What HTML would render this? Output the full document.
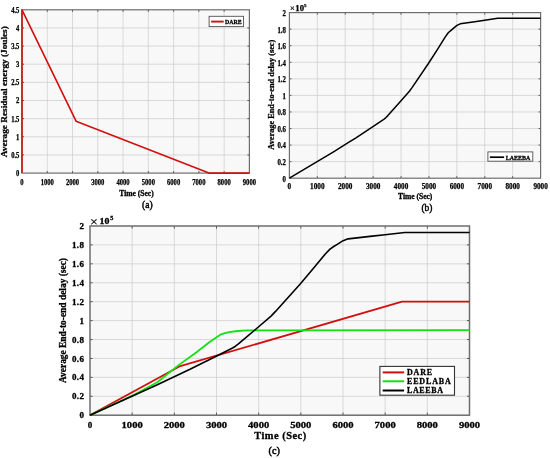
<!DOCTYPE html>
<html><head><meta charset="utf-8"><title>Figure</title>
<style>
html,body{margin:0;padding:0;background:#fff;}
body{width:550px;height:458px;position:relative;overflow:hidden;}
</style></head><body>
<svg width="550" height="458" viewBox="0 0 550 458" style="position:absolute;left:0;top:0">
<style>text{stroke:#000;stroke-width:0.3px} text.s{stroke-width:0.25px}</style>
<g font-family='"Liberation Serif", "Times New Roman", serif' fill="#000">
<rect x="0" y="0" width="550" height="458" fill="#fff"/>
<rect x="22" y="9.8" width="227.4" height="163.3" fill="#f8f8f8"/>
<path d="M47.27 9.8V173.1M72.53 9.8V173.1M97.8 9.8V173.1M123.07 9.8V173.1M148.33 9.8V173.1M173.6 9.8V173.1M198.87 9.8V173.1M224.13 9.8V173.1M22 154.96H249.4M22 136.81H249.4M22 118.67H249.4M22 100.52H249.4M22 82.38H249.4M22 64.23H249.4M22 46.09H249.4M22 27.94H249.4" stroke="#cccccc" stroke-width="0.7" fill="none"/>
<path d="M47.27 173.1v-2.0M47.27 9.8v2.0M72.53 173.1v-2.0M72.53 9.8v2.0M97.8 173.1v-2.0M97.8 9.8v2.0M123.07 173.1v-2.0M123.07 9.8v2.0M148.33 173.1v-2.0M148.33 9.8v2.0M173.6 173.1v-2.0M173.6 9.8v2.0M198.87 173.1v-2.0M198.87 9.8v2.0M224.13 173.1v-2.0M224.13 9.8v2.0M22 154.96h2.0M249.4 154.96h-2.0M22 136.81h2.0M249.4 136.81h-2.0M22 118.67h2.0M249.4 118.67h-2.0M22 100.52h2.0M249.4 100.52h-2.0M22 82.38h2.0M249.4 82.38h-2.0M22 64.23h2.0M249.4 64.23h-2.0M22 46.09h2.0M249.4 46.09h-2.0M22 27.94h2.0M249.4 27.94h-2.0" stroke="#555" stroke-width="1" fill="none"/>
<rect x="22" y="9.8" width="227.4" height="163.3" fill="none" stroke="#6e6e6e" stroke-width="1.2"/>
<text x="19.4" y="176" font-size="7.6" text-anchor="end" font-weight="bold" textLength="3.31" lengthAdjust="spacingAndGlyphs" class="s">0</text>
<text x="19.4" y="157.86" font-size="7.6" text-anchor="end" font-weight="bold" textLength="8.27" lengthAdjust="spacingAndGlyphs" class="s">0.5</text>
<text x="19.4" y="139.71" font-size="7.6" text-anchor="end" font-weight="bold" textLength="3.31" lengthAdjust="spacingAndGlyphs" class="s">1</text>
<text x="19.4" y="121.57" font-size="7.6" text-anchor="end" font-weight="bold" textLength="8.27" lengthAdjust="spacingAndGlyphs" class="s">1.5</text>
<text x="19.4" y="103.42" font-size="7.6" text-anchor="end" font-weight="bold" textLength="3.31" lengthAdjust="spacingAndGlyphs" class="s">2</text>
<text x="19.4" y="85.28" font-size="7.6" text-anchor="end" font-weight="bold" textLength="8.27" lengthAdjust="spacingAndGlyphs" class="s">2.5</text>
<text x="19.4" y="67.13" font-size="7.6" text-anchor="end" font-weight="bold" textLength="3.31" lengthAdjust="spacingAndGlyphs" class="s">3</text>
<text x="19.4" y="48.99" font-size="7.6" text-anchor="end" font-weight="bold" textLength="8.27" lengthAdjust="spacingAndGlyphs" class="s">3.5</text>
<text x="19.4" y="30.84" font-size="7.6" text-anchor="end" font-weight="bold" textLength="3.31" lengthAdjust="spacingAndGlyphs" class="s">4</text>
<text x="19.4" y="12.7" font-size="7.6" text-anchor="end" font-weight="bold" textLength="8.27" lengthAdjust="spacingAndGlyphs" class="s">4.5</text>
<text x="22" y="184.6" font-size="7.6" text-anchor="middle" font-weight="bold" textLength="3.31" lengthAdjust="spacingAndGlyphs" class="s">0</text>
<text x="47.27" y="184.6" font-size="7.6" text-anchor="middle" font-weight="bold" textLength="13.22" lengthAdjust="spacingAndGlyphs" class="s">1000</text>
<text x="72.53" y="184.6" font-size="7.6" text-anchor="middle" font-weight="bold" textLength="13.22" lengthAdjust="spacingAndGlyphs" class="s">2000</text>
<text x="97.8" y="184.6" font-size="7.6" text-anchor="middle" font-weight="bold" textLength="13.22" lengthAdjust="spacingAndGlyphs" class="s">3000</text>
<text x="123.07" y="184.6" font-size="7.6" text-anchor="middle" font-weight="bold" textLength="13.22" lengthAdjust="spacingAndGlyphs" class="s">4000</text>
<text x="148.33" y="184.6" font-size="7.6" text-anchor="middle" font-weight="bold" textLength="13.22" lengthAdjust="spacingAndGlyphs" class="s">5000</text>
<text x="173.6" y="184.6" font-size="7.6" text-anchor="middle" font-weight="bold" textLength="13.22" lengthAdjust="spacingAndGlyphs" class="s">6000</text>
<text x="198.87" y="184.6" font-size="7.6" text-anchor="middle" font-weight="bold" textLength="13.22" lengthAdjust="spacingAndGlyphs" class="s">7000</text>
<text x="224.13" y="184.6" font-size="7.6" text-anchor="middle" font-weight="bold" textLength="13.22" lengthAdjust="spacingAndGlyphs" class="s">8000</text>
<text x="249.4" y="184.6" font-size="7.6" text-anchor="middle" font-weight="bold" textLength="13.22" lengthAdjust="spacingAndGlyphs" class="s">9000</text>
<text x="136.5" y="195.6" font-size="7.6" text-anchor="middle" font-weight="bold" textLength="34.3" lengthAdjust="spacingAndGlyphs">Time (Sec)</text>
<text transform="translate(7.4,91.7) rotate(-90)" font-size="7.6" font-weight="bold" text-anchor="middle" textLength="131" lengthAdjust="spacingAndGlyphs" class="s">Average Residual energy (Joules)</text>
<rect x="209.1" y="16.3" width="34.4" height="10.3" fill="#fff" stroke="#505050" stroke-width="0.9"/>
<text x="225" y="23.9" font-size="7.0" font-weight="bold" textLength="16.7" lengthAdjust="spacingAndGlyphs">DARE</text>
<text x="147.3" y="207.8" font-size="9.5" text-anchor="middle" style="stroke-width:0.45px">(a)</text>
<rect x="289.4" y="12.6" width="251.2" height="165.6" fill="#f8f8f8"/>
<path d="M317.31 12.6V178.2M345.22 12.6V178.2M373.13 12.6V178.2M401.04 12.6V178.2M428.96 12.6V178.2M456.87 12.6V178.2M484.78 12.6V178.2M512.69 12.6V178.2M289.4 161.64H540.6M289.4 145.08H540.6M289.4 128.52H540.6M289.4 111.96H540.6M289.4 95.4H540.6M289.4 78.84H540.6M289.4 62.28H540.6M289.4 45.72H540.6M289.4 29.16H540.6" stroke="#cccccc" stroke-width="0.7" fill="none"/>
<path d="M317.31 178.2v-2.0M317.31 12.6v2.0M345.22 178.2v-2.0M345.22 12.6v2.0M373.13 178.2v-2.0M373.13 12.6v2.0M401.04 178.2v-2.0M401.04 12.6v2.0M428.96 178.2v-2.0M428.96 12.6v2.0M456.87 178.2v-2.0M456.87 12.6v2.0M484.78 178.2v-2.0M484.78 12.6v2.0M512.69 178.2v-2.0M512.69 12.6v2.0M289.4 161.64h2.0M540.6 161.64h-2.0M289.4 145.08h2.0M540.6 145.08h-2.0M289.4 128.52h2.0M540.6 128.52h-2.0M289.4 111.96h2.0M540.6 111.96h-2.0M289.4 95.4h2.0M540.6 95.4h-2.0M289.4 78.84h2.0M540.6 78.84h-2.0M289.4 62.28h2.0M540.6 62.28h-2.0M289.4 45.72h2.0M540.6 45.72h-2.0M289.4 29.16h2.0M540.6 29.16h-2.0" stroke="#555" stroke-width="1" fill="none"/>
<rect x="289.4" y="12.6" width="251.2" height="165.6" fill="none" stroke="#6e6e6e" stroke-width="1.2"/>
<text x="286" y="181.6" font-size="7.6" text-anchor="end" font-weight="bold" textLength="3.42" lengthAdjust="spacingAndGlyphs" class="s">0</text>
<text x="286" y="165.04" font-size="7.6" text-anchor="end" font-weight="bold" textLength="8.55" lengthAdjust="spacingAndGlyphs" class="s">0.2</text>
<text x="286" y="148.48" font-size="7.6" text-anchor="end" font-weight="bold" textLength="8.55" lengthAdjust="spacingAndGlyphs" class="s">0.4</text>
<text x="286" y="131.92" font-size="7.6" text-anchor="end" font-weight="bold" textLength="8.55" lengthAdjust="spacingAndGlyphs" class="s">0.6</text>
<text x="286" y="115.36" font-size="7.6" text-anchor="end" font-weight="bold" textLength="8.55" lengthAdjust="spacingAndGlyphs" class="s">0.8</text>
<text x="286" y="98.8" font-size="7.6" text-anchor="end" font-weight="bold" textLength="3.42" lengthAdjust="spacingAndGlyphs" class="s">1</text>
<text x="286" y="82.24" font-size="7.6" text-anchor="end" font-weight="bold" textLength="8.55" lengthAdjust="spacingAndGlyphs" class="s">1.2</text>
<text x="286" y="65.68" font-size="7.6" text-anchor="end" font-weight="bold" textLength="8.55" lengthAdjust="spacingAndGlyphs" class="s">1.4</text>
<text x="286" y="49.12" font-size="7.6" text-anchor="end" font-weight="bold" textLength="8.55" lengthAdjust="spacingAndGlyphs" class="s">1.6</text>
<text x="286" y="32.56" font-size="7.6" text-anchor="end" font-weight="bold" textLength="8.55" lengthAdjust="spacingAndGlyphs" class="s">1.8</text>
<text x="286" y="16" font-size="7.6" text-anchor="end" font-weight="bold" textLength="3.42" lengthAdjust="spacingAndGlyphs" class="s">2</text>
<text x="289.4" y="189" font-size="7.6" text-anchor="middle" font-weight="bold" textLength="3.61" lengthAdjust="spacingAndGlyphs" class="s">0</text>
<text x="317.31" y="189" font-size="7.6" text-anchor="middle" font-weight="bold" textLength="14.44" lengthAdjust="spacingAndGlyphs" class="s">1000</text>
<text x="345.22" y="189" font-size="7.6" text-anchor="middle" font-weight="bold" textLength="14.44" lengthAdjust="spacingAndGlyphs" class="s">2000</text>
<text x="373.13" y="189" font-size="7.6" text-anchor="middle" font-weight="bold" textLength="14.44" lengthAdjust="spacingAndGlyphs" class="s">3000</text>
<text x="401.04" y="189" font-size="7.6" text-anchor="middle" font-weight="bold" textLength="14.44" lengthAdjust="spacingAndGlyphs" class="s">4000</text>
<text x="428.96" y="189" font-size="7.6" text-anchor="middle" font-weight="bold" textLength="14.44" lengthAdjust="spacingAndGlyphs" class="s">5000</text>
<text x="456.87" y="189" font-size="7.6" text-anchor="middle" font-weight="bold" textLength="14.44" lengthAdjust="spacingAndGlyphs" class="s">6000</text>
<text x="484.78" y="189" font-size="7.6" text-anchor="middle" font-weight="bold" textLength="14.44" lengthAdjust="spacingAndGlyphs" class="s">7000</text>
<text x="512.69" y="189" font-size="7.6" text-anchor="middle" font-weight="bold" textLength="14.44" lengthAdjust="spacingAndGlyphs" class="s">8000</text>
<text x="540.6" y="189" font-size="7.6" text-anchor="middle" font-weight="bold" textLength="14.44" lengthAdjust="spacingAndGlyphs" class="s">9000</text>
<text x="415.2" y="199.2" font-size="7.6" text-anchor="middle" font-weight="bold" textLength="34.3" lengthAdjust="spacingAndGlyphs">Time (Sec)</text>
<text transform="translate(274.2,94.7) rotate(-90)" font-size="7.2" font-weight="bold" text-anchor="middle" textLength="110" lengthAdjust="spacingAndGlyphs" class="s">Average End-to-end delay (sec)</text>
<text x="289.9" y="11.3" font-size="8.4" class="s">×</text>
<text x="295.3" y="10.6" font-size="7.3" font-weight="bold" class="s" textLength="8.7" lengthAdjust="spacingAndGlyphs">10</text>
<text x="303.9" y="6.6" font-size="5.0" font-weight="bold" class="s">5</text>
<rect x="487.9" y="151.9" width="44.9" height="9.3" fill="#fff" stroke="#505050" stroke-width="0.9"/>
<text x="505.8" y="159.5" font-size="6.9" font-weight="bold" textLength="24.5" lengthAdjust="spacingAndGlyphs">LAEEBA</text>
<text x="426.9" y="211.4" font-size="9.4" text-anchor="middle" style="stroke-width:0.45px">(b)</text>
<rect x="90" y="226" width="379.5" height="189.2" fill="#f8f8f8"/>
<path d="M132.17 226V415.2M174.33 226V415.2M216.5 226V415.2M258.67 226V415.2M300.83 226V415.2M343 226V415.2M385.17 226V415.2M427.33 226V415.2M90 396.28H469.5M90 377.36H469.5M90 358.44H469.5M90 339.52H469.5M90 320.6H469.5M90 301.68H469.5M90 282.76H469.5M90 263.84H469.5M90 244.92H469.5" stroke="#cccccc" stroke-width="0.7" fill="none"/>
<path d="M132.17 415.2v-2.6M132.17 226v2.6M174.33 415.2v-2.6M174.33 226v2.6M216.5 415.2v-2.6M216.5 226v2.6M258.67 415.2v-2.6M258.67 226v2.6M300.83 415.2v-2.6M300.83 226v2.6M343 415.2v-2.6M343 226v2.6M385.17 415.2v-2.6M385.17 226v2.6M427.33 415.2v-2.6M427.33 226v2.6M90 396.28h2.6M469.5 396.28h-2.6M90 377.36h2.6M469.5 377.36h-2.6M90 358.44h2.6M469.5 358.44h-2.6M90 339.52h2.6M469.5 339.52h-2.6M90 320.6h2.6M469.5 320.6h-2.6M90 301.68h2.6M469.5 301.68h-2.6M90 282.76h2.6M469.5 282.76h-2.6M90 263.84h2.6M469.5 263.84h-2.6M90 244.92h2.6M469.5 244.92h-2.6" stroke="#555" stroke-width="1" fill="none"/>
<rect x="90" y="226" width="379.5" height="189.2" fill="none" stroke="#6e6e6e" stroke-width="1.5"/>
<text x="84.4" y="418.3" font-size="9" text-anchor="end" font-weight="bold" letter-spacing="0.4">0</text>
<text x="84.4" y="399.38" font-size="9" text-anchor="end" font-weight="bold" letter-spacing="0.4">0.2</text>
<text x="84.4" y="380.46" font-size="9" text-anchor="end" font-weight="bold" letter-spacing="0.4">0.4</text>
<text x="84.4" y="361.54" font-size="9" text-anchor="end" font-weight="bold" letter-spacing="0.4">0.6</text>
<text x="84.4" y="342.62" font-size="9" text-anchor="end" font-weight="bold" letter-spacing="0.4">0.8</text>
<text x="84.4" y="323.7" font-size="9" text-anchor="end" font-weight="bold" letter-spacing="0.4">1</text>
<text x="84.4" y="304.78" font-size="9" text-anchor="end" font-weight="bold" letter-spacing="0.4">1.2</text>
<text x="84.4" y="285.86" font-size="9" text-anchor="end" font-weight="bold" letter-spacing="0.4">1.4</text>
<text x="84.4" y="266.94" font-size="9" text-anchor="end" font-weight="bold" letter-spacing="0.4">1.6</text>
<text x="84.4" y="248.02" font-size="9" text-anchor="end" font-weight="bold" letter-spacing="0.4">1.8</text>
<text x="84.4" y="229.1" font-size="9" text-anchor="end" font-weight="bold" letter-spacing="0.4">2</text>
<text x="90" y="427.7" font-size="9" text-anchor="middle" font-weight="bold">0</text>
<text x="132.17" y="427.7" font-size="9" text-anchor="middle" font-weight="bold" textLength="21.2" lengthAdjust="spacingAndGlyphs">1000</text>
<text x="174.33" y="427.7" font-size="9" text-anchor="middle" font-weight="bold" textLength="21.2" lengthAdjust="spacingAndGlyphs">2000</text>
<text x="216.5" y="427.7" font-size="9" text-anchor="middle" font-weight="bold" textLength="21.2" lengthAdjust="spacingAndGlyphs">3000</text>
<text x="258.67" y="427.7" font-size="9" text-anchor="middle" font-weight="bold" textLength="21.2" lengthAdjust="spacingAndGlyphs">4000</text>
<text x="300.83" y="427.7" font-size="9" text-anchor="middle" font-weight="bold" textLength="21.2" lengthAdjust="spacingAndGlyphs">5000</text>
<text x="343" y="427.7" font-size="9" text-anchor="middle" font-weight="bold" textLength="21.2" lengthAdjust="spacingAndGlyphs">6000</text>
<text x="385.17" y="427.7" font-size="9" text-anchor="middle" font-weight="bold" textLength="21.2" lengthAdjust="spacingAndGlyphs">7000</text>
<text x="427.33" y="427.7" font-size="9" text-anchor="middle" font-weight="bold" textLength="21.2" lengthAdjust="spacingAndGlyphs">8000</text>
<text x="469.5" y="427.7" font-size="9" text-anchor="middle" font-weight="bold" textLength="21.2" lengthAdjust="spacingAndGlyphs">9000</text>
<text x="280.2" y="439.3" font-size="10.4" text-anchor="middle" font-weight="bold" textLength="51.9" lengthAdjust="spacing">Time (Sec)</text>
<text transform="translate(66.3,320.5) rotate(-90)" font-size="10.3" font-weight="bold" text-anchor="middle" textLength="125" lengthAdjust="spacingAndGlyphs">Average End-to-end delay (sec)</text>
<text x="90.3" y="225.9" font-size="13.2" style="stroke-width:0.3px">×</text>
<text x="99.6" y="223.7" font-size="7.8" font-weight="bold" textLength="9.9" lengthAdjust="spacingAndGlyphs">10</text>
<text x="110.3" y="219.9" font-size="6.2" font-weight="bold">5</text>
<rect x="379.9" y="366.4" width="74.6" height="28.8" fill="#fff" stroke="#333" stroke-width="1.1"/>
<text x="407" y="374.8" font-size="8" font-weight="bold" textLength="25.2" lengthAdjust="spacing">DARE</text>
<text x="407" y="383.7" font-size="8" font-weight="bold" textLength="43.7" lengthAdjust="spacing">EEDLABA</text>
<text x="407" y="392.9" font-size="8" font-weight="bold" textLength="36" lengthAdjust="spacing">LAEEBA</text>
<text x="274.2" y="454" font-size="10.2" text-anchor="middle" style="stroke-width:0.5px">(c)</text>
</g>
<g fill="none">
<polyline points="22,173.1 22,9.8 76.07,121.21 208.97,173.1 249.4,173.1" fill="none" stroke="#d20f0f" stroke-width="1.6" stroke-linejoin="round" stroke-linecap="butt"/>
<polyline points="289.4,178.2 333.95,151.54 348.96,142.18 355.58,138.04 372.94,126.53 383.74,119.33 385.69,117.84 387.65,115.85 401.04,100.78 409.42,91.26 412.21,87.37 428.4,63.52 437.19,49.86 445.14,37.11 448.24,32.8 450.73,30.57 453.07,28.66 456.92,25.43 460.27,23.86 467.5,22.78 474.73,21.71 484.72,20.3 497.7,18.23 540.6,18.23" fill="none" stroke="#000000" stroke-width="1.5" stroke-linejoin="round" stroke-linecap="butt"/>
<polyline points="90,415.2 179.39,366.48 402.03,301.68 469.5,301.68" fill="none" stroke="#d20f0f" stroke-width="1.8" stroke-linejoin="round" stroke-linecap="butt"/>
<polyline points="90,415.2 134.53,394.48 157.3,382.18 161.68,378.68 169.06,372.72 179.98,364.12 196.18,352.57 209.29,342.26 221.1,334.32 224.93,333.09 229.15,332.14 237.58,331.01 247.28,330.34 469.5,330.06" fill="none" stroke="#14e014" stroke-width="1.8" stroke-linejoin="round" stroke-linecap="butt"/>
<polyline points="90,415.2 157.3,384.74 179.98,374.05 189.98,369.32 216.2,356.17 232.52,347.94 235.47,346.24 238.43,343.97 258.67,326.75 271.32,315.87 275.53,311.42 299.99,284.18 313.27,268.57 325.29,254 329.97,249.08 333.72,246.53 337.27,244.35 343.08,240.66 348.14,238.87 359.07,237.64 369.99,236.41 385.08,234.8 404.69,232.43 469.5,232.43" fill="none" stroke="#000000" stroke-width="1.6" stroke-linejoin="round" stroke-linecap="butt"/>
<path d="M211.1 21.6H223.7" stroke="#d20f0f" stroke-width="1.9"/>
<path d="M489.9 157.2H504.1" stroke="#000000" stroke-width="1.7"/>
<path d="M382.7 372.4H404.1" stroke="#d20f0f" stroke-width="2"/>
<path d="M382.7 381.3H404.1" stroke="#14e014" stroke-width="2"/>
<path d="M382.7 390.5H404.1" stroke="#000000" stroke-width="2"/>
</g></svg>
</body></html>
